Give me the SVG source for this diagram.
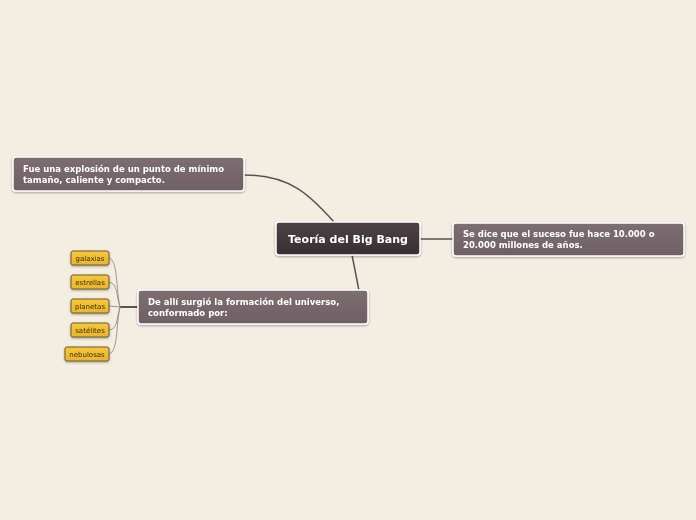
<svg xmlns="http://www.w3.org/2000/svg" width="696" height="520" viewBox="0 0 696 520">
<defs>
<linearGradient id="gMain" x1="0" y1="0" x2="0" y2="1">
<stop offset="0" stop-color="#4d4246"/>
<stop offset="1" stop-color="#382f33"/>
</linearGradient>
<linearGradient id="gSub" x1="0" y1="0" x2="0" y2="1">
<stop offset="0" stop-color="#7d6e72"/>
<stop offset="1" stop-color="#6f6064"/>
</linearGradient>
<linearGradient id="gY" x1="0" y1="0" x2="0" y2="1">
<stop offset="0" stop-color="#f6c83a"/>
<stop offset="1" stop-color="#eab52a"/>
</linearGradient>
<filter id="sh" x="-10%" y="-20%" width="120%" height="150%">
<feDropShadow dx="0" dy="1" stdDeviation="1" flood-color="#000" flood-opacity="0.35"/>
</filter>
</defs>
<style>
.main{fill:url(#gMain);stroke:#ffffff;stroke-width:1.5}
.sub{fill:url(#gSub);stroke:#ffffff;stroke-width:1.5}
.yel{fill:url(#gY);stroke:#6b5a3a;stroke-width:1}
.tm{font-family:"DejaVu Sans",Verdana,sans-serif;font-weight:bold;font-size:11px;fill:#ffffff}
.ts{font-family:"DejaVu Sans",Verdana,sans-serif;font-weight:bold;font-size:8.5px;fill:#ffffff}
.ty{font-family:"DejaVu Sans",Verdana,sans-serif;font-size:7px;fill:#3a2e10}
.c{fill:none;stroke:#5a5255;stroke-width:1.5}
.cy{fill:none;stroke:#8a8285;stroke-width:0.8}
</style>
<rect width="696" height="520" fill="#f3ede2"/>
<g id="connectors">
<path class="c" d="M334,222 C310,195 290,175 244,175"/>
<path class="c" d="M420,239 L453,239"/>
<path class="c" d="M352,255 C355,270 357,280 359,291"/>
<path d="M138,307 L120,307" stroke="#5a5255" stroke-width="2" fill="none"/>
<path class="cy" d="M120,307 C116,290 118,260 109,258"/>
<path class="cy" d="M120,307 C116,295 118,284 109,282"/>
<path class="cy" d="M120,307 L109,306"/>
<path class="cy" d="M120,307 C116,320 118,329 109,330"/>
<path class="cy" d="M120,307 C116,325 118,352 109,354"/>
</g>
<g id="n-main" filter="url(#sh)">
<rect class="main" x="276" y="222" width="144" height="33" rx="3"/>
<text class="tm" x="348" y="243" text-anchor="middle">Teoría del Big Bang</text>
</g>
<g id="n-explosion" filter="url(#sh)">
<rect class="sub" x="13" y="157" width="231" height="34" rx="3"/>
<text class="ts" x="23" y="172">Fue una explosión de un punto de mínimo</text>
<text class="ts" x="23" y="183">tamaño, caliente y compacto.</text>
</g>
<g id="n-suceso" filter="url(#sh)">
<rect class="sub" x="453" y="223" width="231" height="33" rx="3"/>
<text class="ts" x="463" y="237">Se dice que el suceso fue hace 10.000 o</text>
<text class="ts" x="463" y="248">20.000 millones de años.</text>
</g>
<g id="n-universo" filter="url(#sh)">
<rect class="sub" x="138" y="290" width="230" height="34" rx="3"/>
<text class="ts" x="148" y="305">De allí surgió la formación del universo,</text>
<text class="ts" x="148" y="316">conformado por:</text>
</g>
<g id="n-galaxias" filter="url(#sh)">
<rect class="yel" x="71" y="251" width="38" height="14" rx="2"/>
<text class="ty" x="90" y="260.5" text-anchor="middle">galaxias</text>
</g>
<g id="n-estrellas" filter="url(#sh)">
<rect class="yel" x="71" y="275" width="38" height="14" rx="2"/>
<text class="ty" x="90" y="284.5" text-anchor="middle">estrellas</text>
</g>
<g id="n-planetas" filter="url(#sh)">
<rect class="yel" x="71" y="299" width="38" height="14" rx="2"/>
<text class="ty" x="90" y="308.5" text-anchor="middle">planetas</text>
</g>
<g id="n-satelites" filter="url(#sh)">
<rect class="yel" x="71" y="323" width="38" height="14" rx="2"/>
<text class="ty" x="90" y="332.5" text-anchor="middle">satélites</text>
</g>
<g id="n-nebulosas" filter="url(#sh)">
<rect class="yel" x="65" y="347" width="44" height="14" rx="2"/>
<text class="ty" x="87" y="356.5" text-anchor="middle">nebulosas</text>
</g>
</svg>
